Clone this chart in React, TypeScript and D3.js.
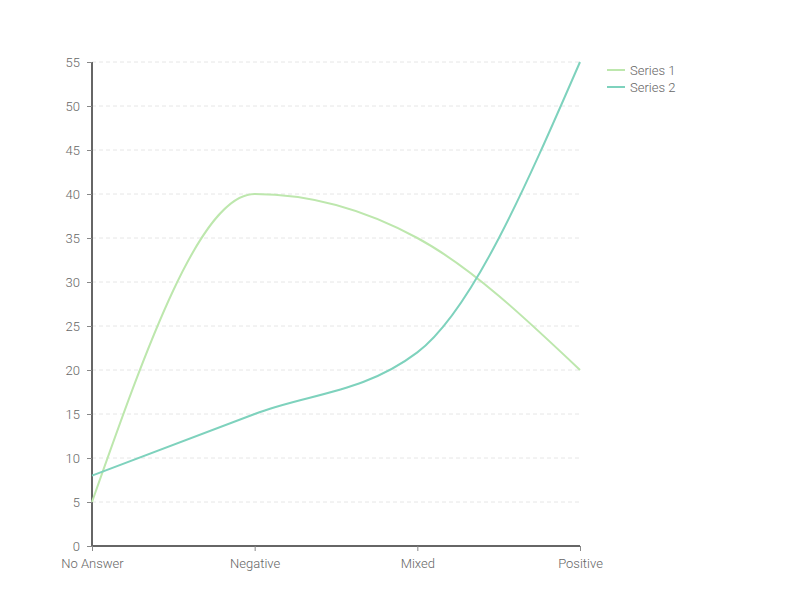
import React, { useEffect, useRef } from "react";
import * as d3 from "d3";

const categories = ["No Answer", "Negative", "Mixed", "Positive"];
const seriesNames = ["Series 1", "Series 2"];
const series1 = [5, 40, 35, 20];
const series2 = [8, 15, 22, 55];
const colors = ["#bde7ad", "#7ed2bd"];
const yTicks = [0, 5, 10, 15, 20, 25, 30, 35, 40, 45, 50, 55];

const App: React.FC = () => {
  const ref = useRef<SVGSVGElement>(null);

  useEffect(() => {
    const svg = d3.select(ref.current);
    svg.selectAll("*").remove();

    const margin = { top: 62, right: 220, bottom: 54, left: 92 };
    const width = 800;
    const height = 600;
    const font = "Roboto, sans-serif";
    const textColor = "#666";
    const fontSize = "13px";

    const x = d3
      .scalePoint<string>()
      .domain(categories)
      .range([margin.left, width - margin.right]);
    const y = d3
      .scaleLinear()
      .domain([0, 55])
      .range([height - margin.bottom, margin.top]);

    // grid
    svg
      .append("g")
      .selectAll("line")
      .data(yTicks.filter((t) => t > 0))
      .join("line")
      .attr("x1", margin.left)
      .attr("x2", width - margin.right)
      .attr("y1", (d) => y(d))
      .attr("y2", (d) => y(d))
      .attr("stroke", "#e6e6e6")
      .attr("stroke-dasharray", "4,3");

    // y axis
    const yAxis = svg
      .append("g")
      .attr("transform", `translate(${margin.left},0)`)
      .call(d3.axisLeft(y).tickValues(yTicks).tickSize(5).tickPadding(7));
    yAxis.select(".domain").attr("stroke", "#666").attr("stroke-width", 2).attr("d", `M0,${y(0)}V${y(55)}`);
    yAxis.selectAll(".tick line").attr("stroke", "#888");
    yAxis
      .selectAll(".tick text")
      .attr("fill", textColor)
      .style("font-family", font)
      .style("font-size", fontSize)
      .style("font-weight", 300);

    // x axis
    const xAxis = svg
      .append("g")
      .attr("transform", `translate(0,${y(0)})`)
      .call(d3.axisBottom(x).tickSize(5).tickPadding(8));
    xAxis.select(".domain").attr("stroke", "#666").attr("stroke-width", 2).attr("d", `M${margin.left},0H${width - margin.right}`);
    xAxis.selectAll(".tick line").attr("stroke", "#888");
    xAxis
      .selectAll(".tick text")
      .attr("fill", textColor)
      .style("font-family", font)
      .style("font-size", fontSize)
      .style("font-weight", 300);

    const line = d3
      .line<number>()
      .x((_, i) => x(categories[i])!)
      .y((d) => y(d))
      .curve(d3.curveMonotoneX);

    [series1, series2].forEach((s, i) => {
      svg
        .append("path")
        .datum(s)
        .attr("fill", "none")
        .attr("stroke", colors[i])
        .attr("stroke-width", 2)
        .attr("d", line);
    });

    // legend
    const legend = svg.append("g").attr("transform", `translate(607,70)`);
    seriesNames.forEach((name, i) => {
      const g = legend.append("g").attr("transform", `translate(0,${i * 17})`);
      g.append("line")
        .attr("x1", 0)
        .attr("x2", 18)
        .attr("stroke", colors[i])
        .attr("stroke-width", 2);
      g.append("text")
        .attr("x", 23)
        .attr("dy", "0.35em")
        .attr("fill", textColor)
        .style("font-family", font)
        .style("font-size", fontSize)
        .style("font-weight", 300)
        .text(name);
    });
  }, []);

  return (
    <svg
      ref={ref}
      width={800}
      height={600}
      style={{ position: "absolute", left: 0, top: 0, background: "#fff" }}
    />
  );
};

export default App;
